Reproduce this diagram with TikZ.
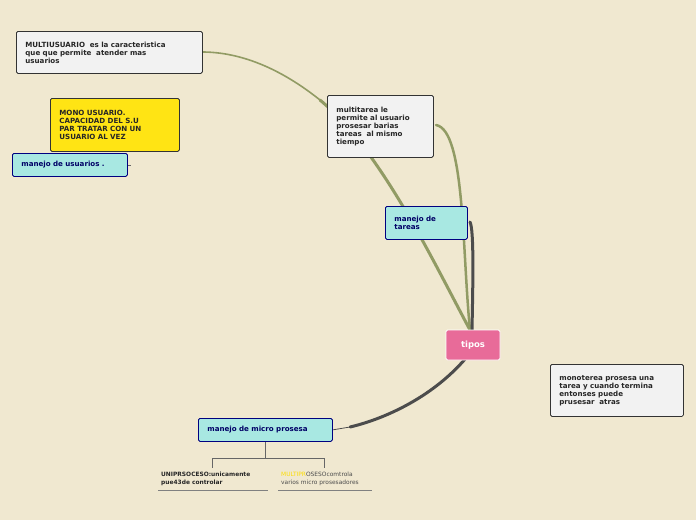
\documentclass[tikz,border=0pt]{standalone}
\usepackage{fontspec}
\setmainfont{DejaVu Sans}
\begin{document}
\begin{tikzpicture}[x=1pt,y=-1pt,
 box/.style={draw=black!80,rounded corners=1.5pt,line width=0.8pt,font=\fontsize{7.1}{8}\selectfont\bfseries,align=left,anchor=north west,inner sep=0pt,text=black!85},
 gray/.style={box,fill=black!5},
 cyanb/.style={box,fill={rgb,255:red,168;green,232;blue,226},draw=blue!50!black,text=blue!40!black},
 olive/.style={draw={rgb,255:red,145;green,155;blue,100},line cap=round},
 dark/.style={draw=black!70,line cap=round}]
\useasboundingbox[fill={rgb,255:red,240;green,232;blue,208}] (0,0) rectangle (696,520);
% connectors
\coordinate (t1) at (470,330);
\draw[olive,line width=3pt] (t1) .. controls (430,255) and (380,150) .. (320,100);
\draw[olive,line width=1.6pt] (320,100) .. controls (280,68) and (240,52) .. (202,52);
\draw[olive,line width=2.5pt] (470,330) .. controls (462,250) and (465,130) .. (436,125);
\draw[dark,line width=3pt] (472,330) .. controls (473,280) and (474,230) .. (470,222);
\draw[dark,line width=3pt] (466,358) .. controls (430,400) and (380,420) .. (350,427);
\draw[dark,line width=0.8pt] (350,427) -- (332,430);
\draw[black!60,line width=0.6pt] (127,165) -- (131,165);
\draw[black!60] (265,441) -- (265,458) (212,458) -- (324,458) (212,458) -- (212,468) (324,458) -- (324,468);
\draw[black!50] (158,490) -- (268,490) (278,490) -- (372,490);
% nodes
\node[box,draw=white,text=white,minimum width=54pt,minimum height=30pt,anchor=center,align=center,font=\fontsize{8.5}{9}\selectfont\bfseries,fill={rgb,255:red,232;green,107;blue,153}] (tipos) at (473,345) {tipos};
\node[cyanb,minimum width=82pt,minimum height=33pt,text width=64pt,inner xsep=9pt,inner ysep=7pt] (tareas) at (385,206) {manejo de\\tareas};
\node[gray,minimum width=106pt,minimum height=62pt,text width=88pt,inner xsep=9pt,inner ysep=7pt] (multi) at (327,95) {multitarea le\\permite al usuario\\prosesar barias\\tareas\ \ al mismo\\tiempo};
\node[gray,minimum width=186pt,minimum height=42pt,text width=168pt,inner xsep=9pt,inner ysep=7pt] (mu) at (16,31) {MULTIUSUARIO\ \ es la caracteristica\\que que permite\ \ atender mas\\usuarios};
\node[box,fill={rgb,255:red,255;green,228;blue,20},minimum width=129pt,minimum height=53pt,text width=111pt,inner xsep=9pt,inner ysep=7pt] (mono) at (50,98) {MONO USUARIO.\\CAPACIDAD DEL S.U\\PAR TRATAR CON UN\\USUARIO AL VEZ};
\node[cyanb,minimum width=115pt,minimum height=23pt,text width=97pt,inner xsep=9pt,inner ysep=7.5pt] (usu) at (12,153) {manejo de usuarios .};
\node[gray,minimum width=133pt,minimum height=52pt,text width=115pt,inner xsep=9pt,inner ysep=7pt] (monot) at (550,364) {monoterea prosesa una\\tarea y cuando termina\\entonses puede\\prusesar\ \ atras};
\node[cyanb,minimum width=134pt,minimum height=23pt,text width=116pt,inner xsep=9pt,inner ysep=7.5pt] (micro) at (198,418) {manejo de micro prosesa};
\node[anchor=north west,inner sep=0pt,align=left,font=\fontsize{5.9}{7.5}\selectfont\bfseries,text=black!85] (uni) at (161,472) {UNIPRSOCESO:unicamente\\pue43de controlar};
\node[anchor=north west,inner sep=0pt,align=left,font=\fontsize{5.9}{7.5}\selectfont,text=black!70] (mp) at (281,472) {\textcolor{yellow!80!orange}{MULTIPR}OSESOcomtrola\\varios micro prosesadores};
\end{tikzpicture}
\end{document}
